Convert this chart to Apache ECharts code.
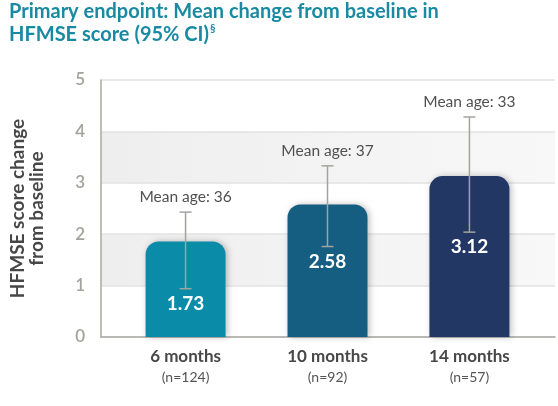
<!DOCTYPE html>
<html><head><meta charset="utf-8">
<script src="https://cdn.jsdelivr.net/npm/echarts@6/dist/echarts.min.js"></script>
<style>html,body{margin:0;padding:0;background:#fff}#c{width:558px;height:406px}</style>
</head><body><div id="c"></div>
<script>
var categories = ['6 months', '10 months', '14 months'];
var sampleSizes = ['(n=124)', '(n=92)', '(n=57)'];
var barHeights = [1.86, 2.58, 3.13];
var meanLabels = ['1.73', '2.58', '3.12'];
var ciLow = [0.94, 1.76, 2.04];
var ciHigh = [2.43, 3.33, 4.28];
var meanAges = [36, 37, 33];
var barColors = ['#0a8ba8', '#155e82', '#223764'];
var yTicks = [0, 1, 2, 3, 4, 5];

var FONT = 'Lato';
var chart = echarts.init(document.getElementById('c'), null, {renderer: 'canvas'});
var errData = categories.map(function (c, i) { return [i, ciLow[i], ciHigh[i], meanAges[i], meanLabels[i]]; });

chart.setOption({
  animation: false,
  textStyle: {fontFamily: FONT},
  title: {
    text: '{t|Primary endpoint: Mean change from baseline in}\n{t|HFMSE score (95% CI)}{s|§}',
    left: 4, top: -5,
    textStyle: {
      rich: {
        t: {color: '#1a8aa3', fontSize: 20, fontWeight: 'bold', lineHeight: 23, fontFamily: FONT},
        s: {color: '#1a8aa3', fontSize: 11, fontWeight: 'bold', lineHeight: 23, verticalAlign: 'top', fontFamily: FONT, padding: [0, 0, 6, 1]}
      }
    }
  },
  grid: [
    {left: 95, right: 3, top: 80, bottom: 69},
    {left: 114.6, right: 17.6, top: 80, bottom: 69}
  ],
  xAxis: [
    {type: 'category', gridIndex: 0, data: [''], axisLine: {lineStyle: {color: '#a9a9a4', width: 1.5}},
     axisTick: {show: false}, axisLabel: {show: false}},
    {type: 'category', gridIndex: 1, data: categories, axisLine: {show: false}, axisTick: {show: false},
     axisLabel: {
       margin: 10,
       formatter: function (v, i) { return '{a|' + v + '}\n{b|' + sampleSizes[i] + '}'; },
       rich: {
         a: {fontSize: 17, fontWeight: 'bold', color: '#474747', fontFamily: FONT, lineHeight: 20},
         b: {fontSize: 14, color: '#555', fontFamily: FONT, lineHeight: 21}
       }
     }}
  ],
  yAxis: [
    {type: 'value', gridIndex: 0, min: 0, max: 5, interval: 1,
     name: 'HFMSE score change\nfrom baseline', nameLocation: 'middle', nameGap: 55, nameRotate: 90,
     nameTextStyle: {fontSize: 19, fontWeight: 'bold', color: '#474747', lineHeight: 19, fontFamily: FONT},
     axisLine: {show: true, lineStyle: {color: '#a9a9a4', width: 1.5}},
     axisTick: {show: false},
     axisLabel: {fontSize: 17, fontWeight: 600, color: '#a3a39e', margin: 16, fontFamily: FONT,
       formatter: function (v) { return yTicks.indexOf(v) >= 0 ? String(v) : ''; }},
     splitLine: {show: true, lineStyle: {color: '#e2e2e2', width: 1.5}},
     splitArea: {show: true, areaStyle: {color: ['#ffffff', new echarts.graphic.LinearGradient(0, 0, 1, 0, [{offset: 0, color: '#eeeeee'}, {offset: 1, color: '#f8f8f8'}])]}}
    },
    {type: 'value', gridIndex: 1, min: 0, max: 5, interval: 1, show: false, splitLine: {show: false}}
  ],
  series: [
    {
      type: 'bar', xAxisIndex: 1, yAxisIndex: 1, barWidth: 80,
      data: barHeights.map(function (v, i) {
        return {value: v, itemStyle: {color: barColors[i]}};
      }),
      itemStyle: {borderRadius: [13, 13, 0, 0], shadowBlur: 6, shadowColor: 'rgba(0,0,0,0.25)', shadowOffsetX: 2, shadowOffsetY: 0}
    },
    {
      type: 'custom', xAxisIndex: 1, yAxisIndex: 1, z: 5,
      data: errData,
      renderItem: function (params, api) {
        var x = api.value(0);
        var lo = api.coord([x, api.value(1)]);
        var hi = api.coord([x, api.value(2)]);
        var cx = lo[0], hw = 6;
        var st = {stroke: '#a3a39e', lineWidth: 1.5};
        return {type: 'group', children: [
          {type: 'line', shape: {x1: cx, y1: hi[1], x2: cx, y2: lo[1]}, style: st},
          {type: 'line', shape: {x1: cx - hw, y1: hi[1], x2: cx + hw, y2: hi[1]}, style: st},
          {type: 'line', shape: {x1: cx - hw, y1: lo[1], x2: cx + hw, y2: lo[1]}, style: st},
          {type: 'text', style: {x: cx, y: hi[1] - 15, text: 'Mean age: ' + api.value(3), align: 'center', verticalAlign: 'middle',
            fill: '#505050', fontSize: 15.5, fontFamily: FONT}},
          {type: 'text', style: {x: cx, y: lo[1] + 15, text: meanLabels[x], align: 'center', verticalAlign: 'middle',
            fill: '#ffffff', fontSize: 19, fontWeight: 'bold', fontFamily: FONT}}
        ]};
      }
    }
  ]
});
</script></body></html>
